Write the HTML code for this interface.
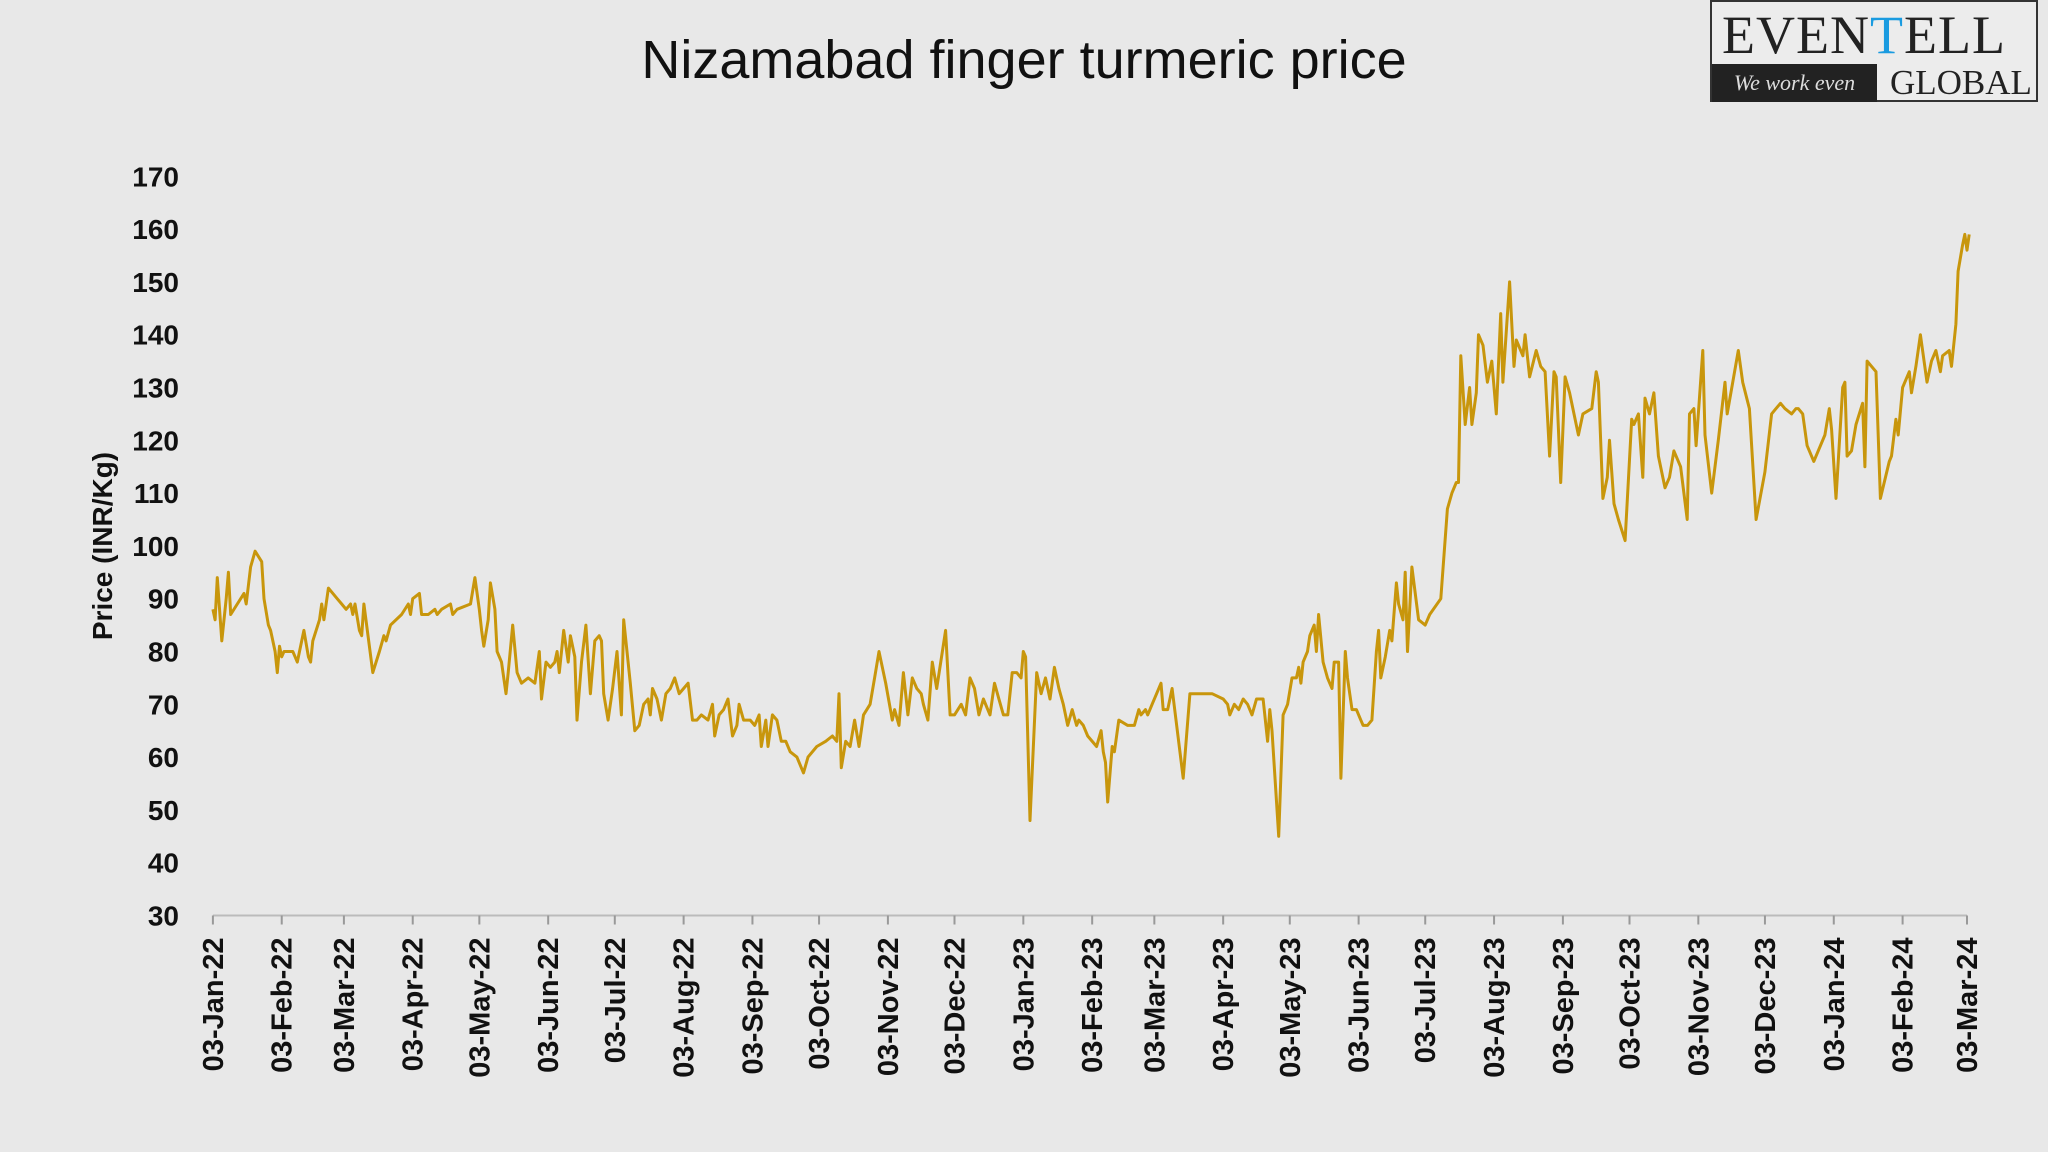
<!DOCTYPE html>
<html><head><meta charset="utf-8">
<style>
html,body{margin:0;padding:0;background:#e8e8e8;}
body{width:2048px;height:1152px;overflow:hidden;position:relative;font-family:"Liberation Sans",sans-serif;}
#title{position:absolute;left:0;width:2048px;top:29px;text-align:center;font-size:54px;color:#111;}
#logo{position:absolute;left:1710px;top:0;width:328px;height:102px;background:#ececec;border:2px solid #333;box-sizing:border-box;}
</style></head>
<body>
<div id="title">Nizamabad finger turmeric price</div>
<div id="logo">
  <div style="position:absolute;left:10px;top:2px;font-family:'Liberation Serif',serif;font-size:54px;color:#222;letter-spacing:1px;">EVEN<span style="color:#1a9be0">T</span>ELL</div>
  <div style="position:absolute;left:0;top:62px;width:165px;height:38px;background:#222;color:#ddd;font-family:'Liberation Serif',serif;font-style:italic;font-size:22px;line-height:38px;text-align:center;">We work even</div>
  <div style="position:absolute;left:178px;top:60px;font-family:'Liberation Serif',serif;font-size:35px;line-height:42px;color:#222;">GLOBAL</div>
</div>
<svg id="chart" width="2048" height="1152" style="position:absolute;left:0;top:0"></svg>
<script>
const yTicks=[30,40,50,60,70,80,90,100,110,120,130,140,150,160,170];
const dayOffsets=[0,1,2,4,6,7,8,11,14,15,17,19,22,23,25,26,28,29,30,31,32,36,37,38,41,43,44,45,48,49,50,52,56,58,60,62,63,64,66,67,68,72,75,77,78,80,85,88,89,90,93,94,97,100,101,103,107,108,110,116,118,120,121,122,124,125,127,128,130,132,133,135,137,139,142,145,147,148,150,152,154,155,156,158,160,161,163,164,166,168,170,172,174,175,176,178,180,182,184,185,188,190,192,194,196,197,198,200,202,204,206,208,210,212,214,216,218,220,223,225,226,228,230,232,234,236,237,239,242,244,246,247,249,250,252,254,256,258,260,263,266,268,272,276,279,281,282,283,285,287,289,291,293,296,298,300,303,306,307,309,311,313,315,317,319,320,322,324,326,330,332,334,337,339,341,343,345,347,350,352,354,356,358,360,362,364,365,366,368,371,373,375,377,379,381,383,385,387,389,390,392,394,398,400,401,402,403,405,406,408,412,415,417,418,420,421,423,425,427,428,430,432,437,440,445,450,455,457,458,460,462,464,466,468,470,473,475,476,477,480,482,484,486,488,489,490,491,493,494,496,497,498,500,502,504,505,507,508,510,511,513,515,517,518,520,522,524,525,526,528,530,531,533,534,536,537,538,540,543,546,548,553,556,558,560,561,562,564,566,567,569,570,572,574,576,578,580,581,584,586,587,590,591,593,596,598,600,602,604,605,607,609,611,613,615,617,621,623,624,626,628,629,631,633,636,639,640,642,644,645,647,649,651,654,656,658,661,664,665,667,668,671,672,675,678,681,682,687,689,692,695,699,702,704,706,708,711,713,714,716,718,721,726,728,729,731,734,735,736,738,740,743,744,745,749,751,755,756,758,759,761,764,765,767,769,772,774,776,778,779,782,783,785,786,788,789,790,791];
const prices=[88,86,94,82,90,95,87,89,91,89,96,99,97,90,85,84,80,76,81,79,80,80,79,78,84,79,78,82,86,89,86,92,90,89,88,89,87,89,84,83,89,76,80,83,82,85,87,89,87,90,91,87,87,88,87,88,89,87,88,89,94,88,84,81,86,93,88,80,78,72,76,85,76,74,75,74,80,71,78,77,78,80,76,84,78,83,79,67,78,85,72,82,83,82,72,67,73,80,68,86,74,65,66,70,71,68,73,71,67,72,73,75,72,73,74,67,67,68,67,70,64,68,69,71,64,66,70,67,67,66,68,62,67,62,68,67,63,63,61,60,57,60,62,63,64,63,72,58,63,62,67,62,68,70,75,80,74,67,69,66,76,68,75,73,72,70,67,78,73,84,68,68,70,68,75,73,68,71,68,74,71,68,68,76,76,75,80,79,48,76,72,75,71,77,73,70,66,69,66,67,66,64,62,65,61,59,51.5,62,61,67,66,66,69,68,69,68,70,72,74,69,69,73,56,72,72,72,71,70,68,70,69,71,70,68,71,71,63,69,65,45,68,70,75,75,77,74,78,80,83,85,80,87,78,75,73,78,78,56,80,75,69,69,67,66,66,67,80,84,75,79,84,82,93,89,86,95,80,96,86,85,87,90,107,110,112,112,136,123,130,123,129,140,138,131,135,125,144,131,150,134,139,136,140,132,137,134,133,117,133,132,112,132,129,125,121,125,126,133,131,109,113,120,108,105,101,124,123,125,113,128,125,129,117,111,113,118,115,105,125,126,119,137,121,110,120,131,125,137,131,126,105,114,125,126,127,126,125,126,126,125,119,116,121,126,122,109,130,131,117,118,123,127,115,135,133,109,116,117,124,121,130,133,129,134,140,131,135,137,133,136,137,134,142,152,157,159,156,159];
const startDate=new Date(2022,0,3);
const monthLabels=["03-Jan-22","03-Feb-22","03-Mar-22","03-Apr-22","03-May-22","03-Jun-22","03-Jul-22","03-Aug-22","03-Sep-22","03-Oct-22","03-Nov-22","03-Dec-22","03-Jan-23","03-Feb-23","03-Mar-23","03-Apr-23","03-May-23","03-Jun-23","03-Jul-23","03-Aug-23","03-Sep-23","03-Oct-23","03-Nov-23","03-Dec-23","03-Jan-24","03-Feb-24","03-Mar-24"];

const NS="http://www.w3.org/2000/svg";
const svg=document.getElementById('chart');
const X0=212.9,X1=1967,DMAX=790,Y30=915.5,Y170=176.3;
function xs(d){return X0+(X1-X0)*d/DMAX;}
function ys(v){return Y30+(Y170-Y30)*(v-30)/140;}
function mk(tag,attrs){const e=document.createElementNS(NS,tag);for(const k in attrs)e.setAttribute(k,attrs[k]);svg.appendChild(e);return e;}

yTicks.forEach(v=>{
  const t=mk('text',{x:179,y:ys(v)+10,'text-anchor':'end','font-size':28,'font-weight':'bold',fill:'#111','font-family':'Liberation Sans, sans-serif'});
  t.textContent=v;
  
  
});
const yt=mk('text',{x:0,y:0,transform:'translate(112,546) rotate(-90)','text-anchor':'middle','font-size':28,'font-weight':'bold',fill:'#111','font-family':'Liberation Sans, sans-serif'});
yt.textContent='Price (INR/Kg)';



const ax=mk('line',{x1:X0,x2:X1,y1:Y30,y2:Y30,stroke:'#bbb','stroke-width':2});



monthLabels.forEach((lab,i)=>{
  const dt=new Date(2022,i,3);
  const d=Math.round((dt-startDate)/86400000);
  const x=xs(d);
  const tk=mk('line',{x1:x,x2:x,y1:Y30,y2:Y30+9,stroke:'#999','stroke-width':2});
  
  
  const t=mk('text',{x:0,y:0,transform:`translate(${x+10},${Y30+22}) rotate(-90)`,'text-anchor':'end','font-size':29,'font-weight':'bold',fill:'#111','font-family':'Liberation Sans, sans-serif'});
  t.textContent=lab;
  
  
});

const pts=dayOffsets.map((d,i)=>xs(d).toFixed(1)+','+ys(prices[i]).toFixed(1)).join(' ');
const line=mk('polyline',{points:pts,fill:'none',stroke:'#c8960c','stroke-width':3,'stroke-linejoin':'round'});


</script>
</body></html>
